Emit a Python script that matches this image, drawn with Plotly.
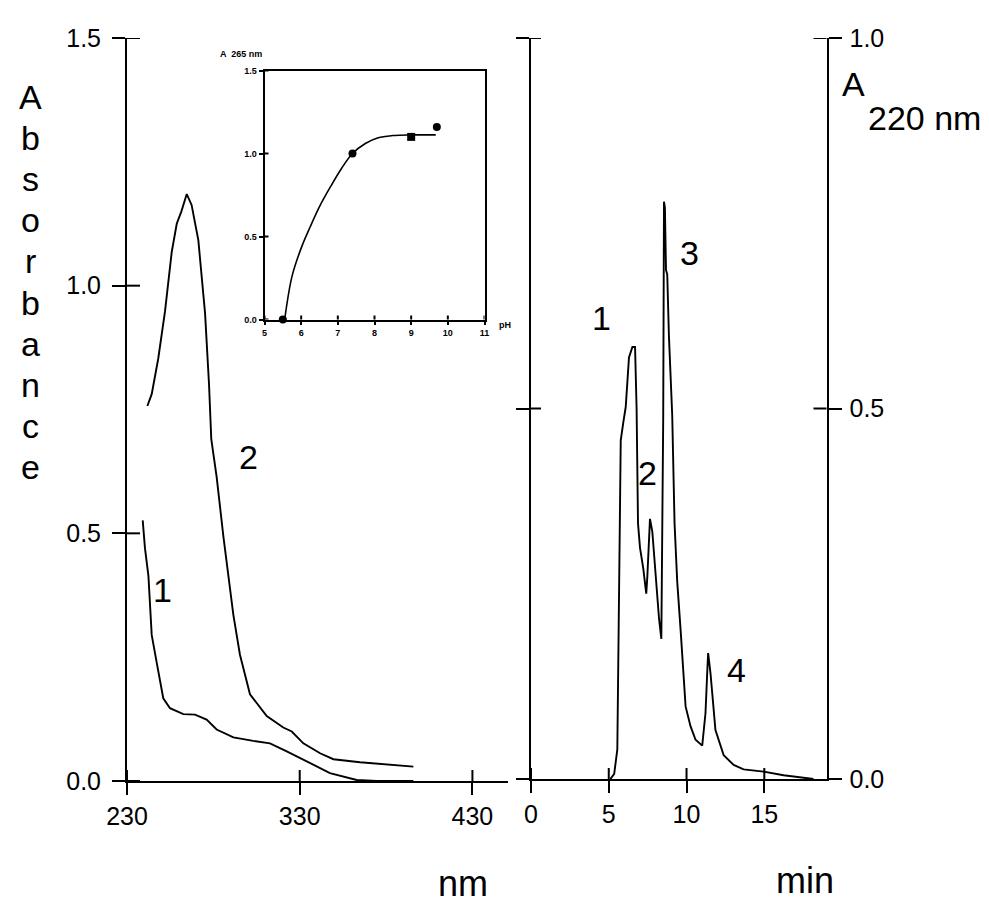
import plotly.graph_objects as go

# ---------------- data ----------------
# Left panel: UV spectra (wavelength nm, absorbance)
nm_spec1 = [239.1, 240.4, 242.4, 244.3, 247.2, 251.0, 254.9, 262.6, 269.4, 276.1,
            281.9, 291.6, 303.1, 312.8, 322.5, 336.0, 347.5, 363.0, 374.6, 395.8]
abs_spec1 = [0.526, 0.470, 0.414, 0.295, 0.239, 0.167, 0.147, 0.135, 0.134, 0.124,
             0.104, 0.088, 0.081, 0.076, 0.060, 0.036, 0.016, 0.002, 0.0, 0.0]

nm_spec2 = [241.8, 244.3, 248.1, 252.0, 255.9, 258.8, 261.5, 264.6, 267.4, 271.3,
            275.2, 277.5, 278.8, 281.9, 285.8, 288.7, 291.6, 295.4, 301.2, 310.9,
            320.5, 325.4, 332.1, 341.8, 349.5, 364.9, 384.2, 395.8]
abs_spec2 = [0.757, 0.781, 0.853, 0.948, 1.068, 1.125, 1.150, 1.185, 1.163, 1.092,
             0.944, 0.800, 0.690, 0.614, 0.494, 0.414, 0.335, 0.255, 0.175, 0.131,
             0.108, 0.100, 0.076, 0.056, 0.044, 0.038, 0.033, 0.029]

# Inset: A265 vs pH
ph_points = [5.5, 7.4, 9.0, 9.7]
a265_points = [0.0, 1.0, 1.1, 1.16]
ph_fit = [5.55, 5.75, 6.0, 6.25, 6.5, 6.8, 7.1, 7.4, 7.75, 8.1, 8.5, 9.0, 9.67]
a265_fit = [0.0, 0.26, 0.43, 0.56, 0.68, 0.80, 0.91, 1.0, 1.06, 1.095, 1.108, 1.112, 1.112]

# Right panel: chromatogram (time min, A220)
t_min = [5.1, 5.35, 5.55, 5.66, 5.77, 5.94, 6.09, 6.30, 6.52, 6.69, 6.79, 6.88, 7.01,
         7.22, 7.41, 7.48, 7.65, 7.80, 7.97, 8.23, 8.38, 8.44, 8.50, 8.55, 8.61, 8.68,
         8.76, 8.87, 9.08, 9.23, 9.40, 9.62, 9.94, 10.26, 10.58, 11.01, 11.22, 11.33,
         11.39, 11.54, 11.86, 12.39, 13.03, 13.67, 14.96, 16.24, 17.52, 18.16]
a220 = [0.0, 0.007, 0.04, 0.23, 0.457, 0.482, 0.502, 0.569, 0.583, 0.583, 0.50, 0.345,
        0.312, 0.284, 0.250, 0.273, 0.351, 0.334, 0.284, 0.217, 0.189, 0.35, 0.485,
        0.779, 0.771, 0.687, 0.681, 0.597, 0.491, 0.345, 0.267, 0.201, 0.098, 0.071,
        0.053, 0.045, 0.089, 0.143, 0.170, 0.143, 0.066, 0.032, 0.019, 0.013, 0.010,
        0.005, 0.001, 0.0]

# tick labels
left_x_ticks = [230, 330, 430]
left_y_ticks = [0.0, 0.5, 1.0, 1.5]
right_x_ticks = [0, 5, 10, 15]
right_y_ticks = [0.0, 0.5, 1.0]
inset_x_ticks = [5, 6, 7, 8, 9, 10, 11]
inset_y_ticks = [0.0, 0.5, 1.0, 1.5]

spec_labels = ["1", "2"]
spec_label_x = [250.3, 300.1]
spec_label_y = [0.385, 0.654]
peak_labels = ["1", "2", "3", "4"]
peak_label_x = [4.56, 7.52, 10.22, 13.24]
peak_label_y = [0.622, 0.413, 0.710, 0.147]

# ---------------- figure ----------------
W, H = 989, 906
FONT = "Liberation Sans"
BLK = "black"


def px_x(p):
    return p / W


def px_y(p):
    return 1 - p / H


fig = go.Figure()
line_style = dict(color=BLK, width=1.9)
fig.add_trace(go.Scatter(x=nm_spec1, y=abs_spec1, mode="lines", line=line_style,
                         xaxis="x", yaxis="y", hoverinfo="skip"))
fig.add_trace(go.Scatter(x=nm_spec2, y=abs_spec2, mode="lines", line=line_style,
                         xaxis="x", yaxis="y", hoverinfo="skip"))
fig.add_trace(go.Scatter(x=t_min, y=a220, mode="lines", line=line_style,
                         xaxis="x3", yaxis="y3", hoverinfo="skip"))
fig.add_trace(go.Scatter(x=ph_fit, y=a265_fit, mode="lines", line=dict(color=BLK, width=1.6),
                         line_shape="spline", xaxis="x5", yaxis="y5", hoverinfo="skip"))
fig.add_trace(go.Scatter(x=ph_points, y=a265_points, mode="markers",
                         marker=dict(color=BLK, size=8, symbol=["circle", "circle", "square", "circle"]),
                         xaxis="x5", yaxis="y5", cliponaxis=False, hoverinfo="skip"))

# domains in pixels
LX0, LX1, LYB, LYT = 127, 508, 781, 38
RX0, RX1, RYB, RYT = 531, 826.5, 779, 38
IX0, IX1, IYB, IYT = 264.5, 484.5, 319.5, 70.5

ax_common = dict(showline=True, linecolor=BLK, linewidth=2, showgrid=False, zeroline=False,
                 ticks="outside", tickcolor=BLK, tickwidth=2, automargin=False,
                 tickfont=dict(family=FONT, size=25, color=BLK))

fig.update_layout(
    width=W, height=H, margin=dict(l=0, r=0, t=0, b=0, autoexpand=False),
    paper_bgcolor="white", plot_bgcolor="rgba(0,0,0,0)", showlegend=False,
    xaxis=dict(ax_common, domain=[px_x(LX0), px_x(LX1)], range=[230, 450.6],
               tickvals=left_x_ticks, ticktext=[str(v) for v in left_x_ticks],
               ticklen=12, anchor="y"),
    yaxis=dict(ax_common, domain=[px_y(LYB), px_y(LYT)], range=[0, 1.5],
               tickvals=left_y_ticks, ticktext=["%.1f" % v for v in left_y_ticks],
               ticklen=13, ticklabelstandoff=6, anchor="x"),
    xaxis3=dict(ax_common, domain=[px_x(RX0), px_x(RX1)], range=[0, 19],
                tickvals=right_x_ticks, ticktext=[str(v) for v in right_x_ticks],
                ticklen=12, anchor="y3"),
    yaxis3=dict(ax_common, domain=[px_y(RYB), px_y(RYT)], range=[0, 1.0],
                tickvals=right_y_ticks, ticktext=["%.1f" % v for v in right_y_ticks],
                ticklen=13, ticklabelstandoff=3, anchor="x3", side="right", mirror="ticks"),
    xaxis5=dict(ax_common, domain=[px_x(IX0), px_x(IX1)], range=[5, 11],
                tickvals=inset_x_ticks, ticktext=[str(v) for v in inset_x_ticks],
                ticklen=4, tickwidth=1.5, linewidth=1.8, anchor="y5", mirror=True,
                tickfont=dict(family=FONT, size=9, color=BLK, weight="bold")),
    yaxis5=dict(ax_common, domain=[px_y(IYB), px_y(IYT)], range=[0, 1.5],
                tickvals=inset_y_ticks, ticktext=["%.1f" % v for v in inset_y_ticks],
                ticklen=4, tickwidth=1.5, linewidth=1.8, anchor="x5", mirror=True,
                tickfont=dict(family=FONT, size=9, color=BLK, weight="bold")),
)

# inside halves of the crossing tick marks
shapes = []


def x_inside(xref, vals, length_px, height_px):
    for v in vals:
        shapes.append(dict(type="line", xref=xref, yref=xref.replace("x", "y") + " domain",
                           x0=v, x1=v, y0=0, y1=length_px / height_px,
                           line=dict(color=BLK, width=2)))


def y_inside(yref, xdom, vals, length_px, width_px, at_right=False):
    for v in vals:
        f = length_px / width_px
        x0, x1 = (1 - f, 1) if at_right else (0, f)
        shapes.append(dict(type="line", xref=xdom + " domain", yref=yref,
                           x0=x0, x1=x1, y0=v, y1=v, line=dict(color=BLK, width=2)))


x_inside("x", left_x_ticks, 11, LYB - LYT)
y_inside("y", "x", left_y_ticks, 13, LX1 - LX0)
x_inside("x3", right_x_ticks, 11, RYB - RYT)
y_inside("y3", "x3", right_y_ticks[1:], 10, RX1 - RX0)
y_inside("y3", "x3", right_y_ticks[1:], 13, RX1 - RX0, at_right=True)
x_inside("x5", inset_x_ticks, 4, IYB - IYT)
y_inside("y5", "x5", inset_y_ticks, 4, IX1 - IX0)
fig.update_layout(shapes=shapes)

ann = []


def note(text, x, y, size, xref="paper", yref="paper", xanchor="center", weight="normal"):
    ann.append(dict(text=text, x=x, y=y, xref=xref, yref=yref, showarrow=False,
                    xanchor=xanchor, yanchor="middle",
                    font=dict(family=FONT, size=size, color=BLK, weight=weight)))


for i, ch in enumerate("Absorbance"):
    note(ch, px_x(30), px_y(97 + 41.1 * i), 34)
note("nm", px_x(463), px_y(883), 36)
note("min", px_x(805), px_y(880), 36)
note("A", px_x(853), px_y(84), 34)
note("220 nm", px_x(866), px_y(118), 34, xanchor="left")
note("A  265 nm", px_x(218), px_y(54), 9, xanchor="left", weight="bold")
note("pH", px_x(505), px_y(325), 9, weight="bold")
for s, xv, yv in zip(spec_labels, spec_label_x, spec_label_y):
    note(s, xv, yv, 34, xref="x", yref="y")
for s, xv, yv in zip(peak_labels, peak_label_x, peak_label_y):
    note(s, xv, yv, 34, xref="x3", yref="y3")
fig.update_layout(annotations=ann)

fig.write_html("out.html")
